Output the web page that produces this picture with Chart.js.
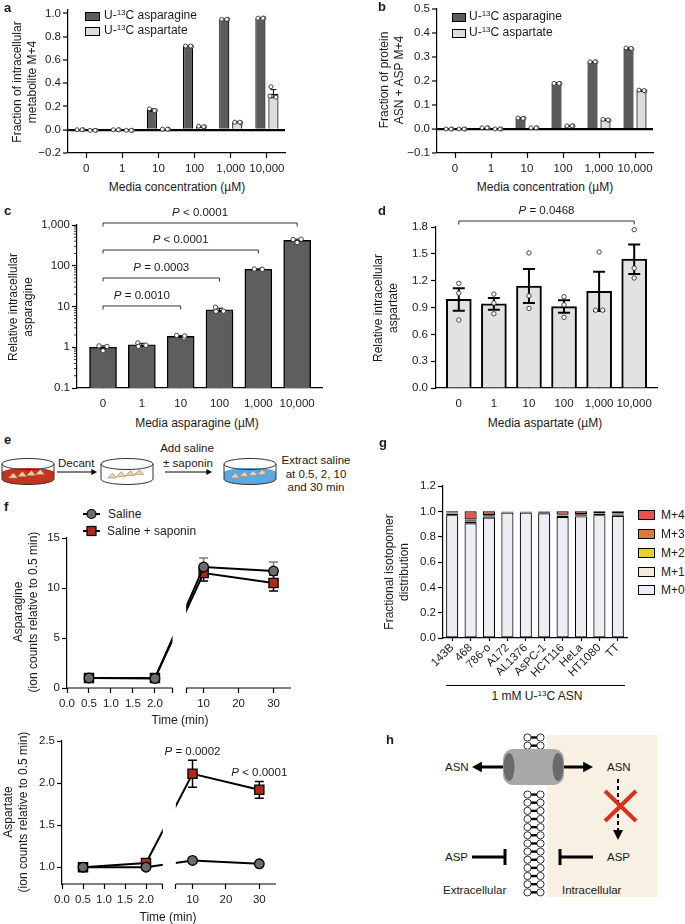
<!DOCTYPE html>
<html lang="en">
<head>
<meta charset="UTF-8">
<title>Asparagine and aspartate uptake</title>
<script src="https://cdn.jsdelivr.net/npm/chart.js@4.4.1/dist/chart.umd.min.js"></script>
<style>
  body { margin: 0; background: #fff; }
  #fig { position: relative; width: 685px; height: 924px; overflow: hidden;
         font-family: "Liberation Sans", Arial, sans-serif; color: #1a1a1a; }
  #fig canvas, #fig svg, .t, .sw, .rule { position: absolute; }
  .t { font-size: 12px; line-height: 14px; white-space: nowrap; }
  .lbl { font-size: 13px; font-weight: bold; }
  .c { transform: translate(-50%, -50%); text-align: center; }
  .r { transform: translate(-50%, -50%) rotate(-90deg); text-align: center; line-height: 15px; }
  .lg { font-size: 12px; transform: translateY(-50%); }
  .sup { font-size: 8px; position: relative; top: -4px; }
  .sw { border: 1.2px solid #000; box-sizing: border-box; }
  .rule { border-top: 1.3px solid #000; }
</style>
</head>
<body>
<div id="fig">
  <svg id="art" width="685" height="924" style="left:0;top:0"></svg>

  <canvas id="ca"></canvas>
  <canvas id="cb"></canvas>
  <canvas id="cc"></canvas>
  <canvas id="cd"></canvas>
  <canvas id="cf1"></canvas>
  <canvas id="cf2"></canvas>
  <canvas id="cg"></canvas>

  <!-- panel letters -->
  <div class="t lbl" style="left:4px;top:1px">a</div>
  <div class="t lbl" style="left:378px;top:0px">b</div>
  <div class="t lbl" style="left:4px;top:204px">c</div>
  <div class="t lbl" style="left:378px;top:204px">d</div>
  <div class="t lbl" style="left:4px;top:433px">e</div>
  <div class="t lbl" style="left:4px;top:500px">f</div>
  <div class="t lbl" style="left:379px;top:436px">g</div>
  <div class="t lbl" style="left:386px;top:733px">h</div>

  <!-- a -->
  <div class="t r" style="left:25px;top:82px">Fraction of intracellular<br>metabolite M+4</div>
  <div class="t c" style="left:177px;top:187px">Media concentration (µM)</div>
  <div class="sw" style="left:85px;top:12px;width:15px;height:9px;background:#5c5c5c"></div>
  <div class="sw" style="left:85px;top:27px;width:15px;height:9px;background:#dddddd"></div>
  <div class="t lg" style="left:104px;top:16px">U-<span class="sup">13</span>C asparagine</div>
  <div class="t lg" style="left:104px;top:31px">U-<span class="sup">13</span>C aspartate</div>

  <!-- b -->
  <div class="t r" style="left:392px;top:80px">Fraction of protein<br>ASN + ASP M+4</div>
  <div class="t c" style="left:545px;top:187px">Media concentration (µM)</div>
  <div class="sw" style="left:452px;top:13px;width:14px;height:9px;background:#5c5c5c"></div>
  <div class="sw" style="left:452px;top:29px;width:14px;height:9px;background:#dddddd"></div>
  <div class="t lg" style="left:469px;top:17px">U-<span class="sup">13</span>C asparagine</div>
  <div class="t lg" style="left:469px;top:33px">U-<span class="sup">13</span>C aspartate</div>

  <!-- c / d -->
  <div class="t r" style="left:21px;top:307px">Relative intracellular<br>asparagine</div>
  <div class="t c" style="left:197px;top:423px">Media asparagine (µM)</div>
  <div class="t r" style="left:386px;top:308px">Relative intracellular<br>aspartate</div>
  <div class="t c" style="left:545px;top:423px">Media aspartate (µM)</div>

  <!-- f -->
  <div class="t lg" style="left:108px;top:514px">Saline</div>
  <div class="t lg" style="left:107px;top:531px">Saline + saponin</div>
  <div class="t r" style="left:26px;top:612px">Asparagine<br>(ion counts relative to 0.5 min)</div>
  <div class="t c" style="left:180px;top:720px">Time (min)</div>
  <div class="t r" style="left:16px;top:812px">Aspartate<br>(ion counts relative to 0.5 min)</div>
  <div class="t c" style="left:168px;top:917px">Time (min)</div>

  <!-- g -->
  <div class="t r" style="left:397px;top:572px">Fractional isotopomer<br>distribution</div>
  <div class="sw" style="left:638px;top:510px;width:17px;height:10px;background:#e8524f"></div>
  <div class="sw" style="left:638px;top:529px;width:17px;height:10px;background:#d97b3b"></div>
  <div class="sw" style="left:638px;top:548px;width:17px;height:10px;background:#e6d42a"></div>
  <div class="sw" style="left:638px;top:567px;width:17px;height:10px;background:#f2ecda"></div>
  <div class="sw" style="left:638px;top:585px;width:17px;height:10px;background:#ededf3"></div>
  <div class="t lg" style="left:661px;top:515px">M+4</div>
  <div class="t lg" style="left:661px;top:534px">M+3</div>
  <div class="t lg" style="left:661px;top:553px">M+2</div>
  <div class="t lg" style="left:661px;top:572px">M+1</div>
  <div class="t lg" style="left:661px;top:590px">M+0</div>
  <div class="rule" style="left:446px;top:685px;width:179px"></div>
  <div class="t c" style="left:537px;top:697px">1 mM U-<span class="sup">13</span>C ASN</div>
</div>

<script>
// ---------- data ----------
const concLabels = ['0', '1', '10', '100', '1,000', '10,000'];

// a: intracellular M+4 fraction
const aAsn = [0.0, 0.0, 0.17, 0.72, 0.95, 0.96];
const aAsnErr = [0, 0, 0.01, 0.005, 0.003, 0.003];
const aAsnPts = [[0, 0, 0], [0, 0, 0], [0.18, 0.165, 0.165], [0.72, 0.715, 0.72], [0.95, 0.95, 0.95], [0.96, 0.96, 0.96]];
const aAsp = [-0.005, -0.005, 0.005, 0.025, 0.065, 0.31];
const aAspErr = [0, 0, 0, 0.005, 0.005, 0.035];
const aAspPts = [[-0.005, -0.005, -0.005], [-0.005, -0.005, -0.005], [0.005, 0.005, 0.005], [0.03, 0.025, 0.025], [0.065, 0.06, 0.065], [0.37, 0.29, 0.28]];
const aTicks = [-0.2, 0, 0.2, 0.4, 0.6, 0.8, 1.0];

// b: protein ASN + ASP M+4 fraction
const bAsn = [0.0, 0.005, 0.045, 0.19, 0.28, 0.335];
const bAsnErr = [0, 0, 0.002, 0.002, 0.002, 0.004];
const bAsnPts = [[0, 0, 0], [0.005, 0.005, 0.005], [0.046, 0.045, 0.044], [0.19, 0.19, 0.19], [0.28, 0.28, 0.28], [0.338, 0.333, 0.336]];
const bAsp = [0.0, 0.0, 0.005, 0.013, 0.038, 0.16];
const bAspErr = [0, 0, 0, 0.002, 0.003, 0.003];
const bAspPts = [[0, 0, 0], [0, 0, 0], [0.005, 0.005, 0.005], [0.013, 0.013, 0.013], [0.04, 0.036, 0.038], [0.162, 0.158, 0.16]];
const bTicks = [-0.1, 0, 0.1, 0.2, 0.3, 0.4, 0.5];

// c: relative intracellular asparagine (log)
const cVals = [1.0, 1.15, 1.85, 8.3, 82, 420];
const cErr = [0.08, 0.1, 0.08, 0.8, 2, 30];
const cPts = [[1.08, 0.82, 1.05], [1.28, 1.05, 1.12], [1.95, 1.7, 1.9], [9.6, 7.6, 7.7], [83, 81, 82], [440, 370, 450]];
const cTicks = [0.1, 1, 10, 100, 1000];
const cTickText = ['0.1', '1', '10', '100', '1,000'];
const cPTo = [5, 4, 3, 2];
const cP = [' < 0.0001', ' < 0.0001', ' = 0.0003', ' = 0.0010'];

// d: relative intracellular aspartate
const dVals = [0.99, 0.94, 1.14, 0.91, 1.08, 1.44];
const dErr = [0.125, 0.065, 0.19, 0.07, 0.22, 0.165];
const dPts = [[0.76, 1.06, 1.17], [0.83, 0.95, 1.05], [0.89, 1.03, 1.51], [0.79, 0.93, 1.02], [0.87, 0.87, 1.52], [1.23, 1.34, 1.77]];
const dTicks = [0, 0.3, 0.6, 0.9, 1.2, 1.5, 1.8];
const dP = ' = 0.0468';

// f: time course (min)
const fTimes = [0.5, 2, 10, 30];
const fAsnSaline = [1.0, 0.95, 12.1, 11.7];
const fAsnSalineErr = [0.05, 0.05, 0.9, 0.9];
const fAsnSaponin = [1.0, 1.0, 11.5, 10.5];
const fAsnSaponinErr = [0.05, 0.05, 0.8, 0.8];
const fAspSaline = [1.0, 1.0, 1.08, 1.04];
const fAspSalineErr = [0.01, 0.03, 0.01, 0.01];
const fAspSaponin = [1.0, 1.05, 2.11, 1.92];
const fAspSaponinErr = [0.01, 0.04, 0.16, 0.1];
const fAspP = [' = 0.0002', ' < 0.0001'];
const fAsnTicks = [0, 5, 10, 15];
const fAspTicks = [1.0, 1.5, 2.0, 2.5];
const fTimeTicks = [0, 0.5, 1, 1.5, 2, 2.4, 5, 10, 20, 30];
const fTimeText = ['0.0', '0.5', '1.0', '1.5', '2.0', '', '', '10', '20', '30'];

// g: isotopomer distribution
const gLines = ['143B', '468', '786-o', 'A172', 'AL1376', 'AsPC-1', 'HCT116', 'HeLa', 'HT1080', 'TT'];
const gM0 = [0.97, 0.905, 0.95, 0.99, 0.99, 0.985, 0.955, 0.96, 0.97, 0.965];
const gM1 = [0.01, 0.015, 0.01, 0.005, 0.005, 0.007, 0.01, 0.01, 0.008, 0.01];
const gM2 = [0.004, 0.005, 0.003, 0.002, 0.002, 0.002, 0.003, 0.003, 0.002, 0.003];
const gM3 = [0.006, 0.01, 0.007, 0.001, 0.001, 0.002, 0.005, 0.005, 0.004, 0.005];
const gM4 = [0.01, 0.065, 0.03, 0.002, 0.002, 0.004, 0.027, 0.022, 0.016, 0.017];
const gTicks = [0, 0.2, 0.4, 0.6, 0.8, 1.0, 1.2];

// ---------- shared setup ----------
const FONT = '"Liberation Sans", Arial, sans-serif';
Chart.defaults.font.family = FONT;
Chart.defaults.font.size = 11.5;
Chart.defaults.color = '#1a1a1a';
Chart.defaults.animation = false;
Chart.defaults.responsive = false;
Chart.defaults.events = [];
Chart.defaults.plugins.legend.display = false;
Chart.defaults.plugins.tooltip.enabled = false;

const AX = '#000';
const DARK = '#5c5c5c', LIGHT = '#dddddd';
const fmt1 = v => (v < 0 ? '−' : '') + Math.abs(v).toFixed(1);
const setTicks = list => s => { s.ticks = list.map(v => ({ value: v })); };

// position a canvas and pin its chart area to page pixels
function frame(id, L, T, W, H, x0, y0, x1, y1) {
  const c = document.getElementById(id);
  c.width = W; c.height = H;
  Object.assign(c.style, { left: L + 'px', top: T + 'px', width: W + 'px', height: H + 'px' });
  return {
    el: c,
    layout: { autoPadding: false, padding: { left: 0, top: y0 - T, right: L + W - x1, bottom: 0 } },
    fitX: s => { s.height = T + H - y1; s.paddingLeft = 0; s.paddingRight = 0; },
    fitY: s => { s.width = x0 - L; s.paddingTop = 0; s.paddingBottom = 0; }
  };
}

function tickGrid(len) {
  return { offset: false, drawOnChartArea: false, tickLength: len, tickColor: AX, tickWidth: 1.2 };
}

function pText(ctx, cx, cy, rest) {
  ctx.save();
  ctx.fillStyle = '#1a1a1a';
  ctx.textBaseline = 'middle';
  ctx.textAlign = 'left';
  ctx.font = 'italic 11.5px ' + FONT;
  const wP = ctx.measureText('P').width;
  ctx.font = '11.5px ' + FONT;
  const wR = ctx.measureText(rest).width;
  const x = cx - (wP + wR) / 2;
  ctx.font = 'italic 11.5px ' + FONT;
  ctx.fillText('P', x, cy);
  ctx.font = '11.5px ' + FONT;
  ctx.fillText(rest, x + wP, cy);
  ctx.restore();
}

// error bars + replicate dots on top of bars
function makeBarExtras(sets) {
  return {
    id: 'barExtras',
    afterDatasetsDraw(chart) {
      const ctx = chart.ctx, ys = chart.scales.y;
      sets.forEach(s => {
        chart.getDatasetMeta(s.ds).data.forEach((bar, i) => {
          const x = bar.x;
          ctx.save();
          ctx.strokeStyle = '#000';
          ctx.lineWidth = s.lw;
          if (s.err[i] > 0) {
            const yt = ys.getPixelForValue(s.mean[i] + s.err[i]);
            const yb = ys.getPixelForValue(s.mean[i] - s.err[i]);
            ctx.beginPath();
            ctx.moveTo(x, yt); ctx.lineTo(x, yb);
            ctx.moveTo(x - s.cap, yt); ctx.lineTo(x + s.cap, yt);
            ctx.moveTo(x - s.cap, yb); ctx.lineTo(x + s.cap, yb);
            ctx.stroke();
          }
          const py = s.pts[i].map(v => ys.getPixelForValue(v));
          ctx.fillStyle = '#fff';
          ctx.strokeStyle = '#333';
          ctx.lineWidth = 0.9;
          py.forEach((y, k) => {
            let dx = s.jit[k];
            if (dx === 0) {
              const near = py.map((o, j) => j).filter(j => j !== k && Math.abs(py[j] - y) < 3);
              if (near.length) dx = k < near[0] ? -3.5 : 3.5;
            }
            ctx.beginPath();
            ctx.arc(x + dx, y, s.r, 0, Math.PI * 2);
            ctx.fill(); ctx.stroke();
          });
          ctx.restore();
        });
      });
    }
  };
}

// significance brackets between bars
function makeBrackets(list) {
  return {
    id: 'brackets',
    afterDraw(chart) {
      const ctx = chart.ctx, xs = chart.scales.x, ys = chart.scales.y;
      list.forEach(b => {
        const xa = xs.getPixelForValue(b.from), xb = xs.getPixelForValue(b.to), y = ys.getPixelForValue(b.y);
        ctx.save();
        ctx.strokeStyle = '#333'; ctx.lineWidth = 1;
        ctx.beginPath();
        ctx.moveTo(xa, y + 3.5); ctx.lineTo(xa, y); ctx.lineTo(xb, y); ctx.lineTo(xb, y + 3.5);
        ctx.stroke();
        ctx.restore();
        pText(ctx, (xa + xb) / 2, y - 10, b.text);
      });
    }
  };
}

// short minor ticks on a log axis
const logMinor = {
  id: 'logMinor',
  afterDraw(chart) {
    const ctx = chart.ctx, ys = chart.scales.y, x0 = chart.chartArea.left;
    ctx.save();
    ctx.strokeStyle = AX; ctx.lineWidth = 0.8;
    ctx.beginPath();
    [0.1, 1, 10, 100].forEach(d => {
      for (let m = 2; m <= 9; m++) {
        const y = ys.getPixelForValue(d * m);
        ctx.moveTo(x0 - 3, y); ctx.lineTo(x0, y);
      }
    });
    ctx.stroke();
    ctx.restore();
  }
};

// broken time axis: 0-2.4 min then 5-35 min
const BREAK_LO = 2.4, BREAK_HI = 2.71, RIGHT_K = 0.0795;
const tPos = t => (t <= BREAK_LO ? t : BREAK_HI + (t - 5) * RIGHT_K);

const axisBreak = {
  id: 'axisBreak',
  afterDatasetsDraw(chart) {
    const ctx = chart.ctx, xs = chart.scales.x, a = chart.chartArea;
    const xa = xs.getPixelForValue(BREAK_LO), xb = xs.getPixelForValue(BREAK_HI);
    ctx.save();
    ctx.fillStyle = '#fff';
    ctx.fillRect(xa, a.top - 2, xb - xa, a.bottom - a.top + 1);
    ctx.strokeStyle = AX; ctx.lineWidth = 1.2;
    ctx.beginPath();
    ctx.moveTo(a.left, a.bottom); ctx.lineTo(xa, a.bottom);
    ctx.moveTo(xb, a.bottom); ctx.lineTo(a.right, a.bottom);
    ctx.stroke();
    ctx.restore();
  }
};

function makeLineErr(sets) {
  return {
    id: 'lineErr',
    beforeDatasetsDraw(chart) {
      const ctx = chart.ctx, ys = chart.scales.y;
      sets.forEach(s => {
        chart.getDatasetMeta(s.ds).data.forEach((pt, i) => {
          const yt = ys.getPixelForValue(s.mean[i] + s.err[i]);
          const yb = ys.getPixelForValue(s.mean[i] - s.err[i]);
          ctx.save();
          ctx.strokeStyle = s.color; ctx.lineWidth = 1.5;
          ctx.beginPath();
          ctx.moveTo(pt.x, yt); ctx.lineTo(pt.x, yb);
          ctx.moveTo(pt.x - 4.5, yt); ctx.lineTo(pt.x + 4.5, yt);
          ctx.moveTo(pt.x - 4.5, yb); ctx.lineTo(pt.x + 4.5, yb);
          ctx.stroke();
          ctx.restore();
        });
      });
    }
  };
}

function makePLabels(list) {
  return {
    id: 'pLabels',
    afterDatasetsDraw(chart) {
      const ys = chart.scales.y;
      list.forEach(p => {
        const pt = chart.getDatasetMeta(p.ds).data[p.i];
        pText(chart.ctx, pt.x, ys.getPixelForValue(p.v + p.e) - 9, p.text);
      });
    }
  };
}

// ---------- a & b: grouped bars ----------
function groupedChart(f, asn, asnErr, asnPts, asp, aspErr, aspPts, min, max, ticks) {
  const barStyle = { borderColor: '#000', borderWidth: 1.2, categoryPercentage: 0.72, barPercentage: 0.78 };
  new Chart(f.el, {
    type: 'bar',
    data: {
      labels: concLabels,
      datasets: [
        Object.assign({ data: asn, backgroundColor: DARK }, barStyle),
        Object.assign({ data: asp, backgroundColor: LIGHT }, barStyle)
      ]
    },
    options: {
      layout: f.layout,
      scales: {
        x: {
          afterFit: f.fitX,
          border: { color: AX, width: 1.2 },
          grid: tickGrid(5),
          ticks: { padding: 4, maxRotation: 0, minRotation: 0, autoSkip: false }
        },
        y: {
          afterFit: f.fitY, min: min, max: max, afterBuildTicks: setTicks(ticks),
          border: { color: AX, width: 1.2 },
          grid: {
            drawOnChartArea: true, tickLength: 5, tickColor: AX, tickWidth: 1.2,
            color: c => (c.tick && c.tick.value === 0 ? '#000' : 'rgba(0,0,0,0)'),
            lineWidth: c => (c.tick && c.tick.value === 0 ? 2.2 : 0)
          },
          ticks: { padding: 2, callback: fmt1 }
        }
      }
    },
    plugins: [makeBarExtras([
      { ds: 0, mean: asn, err: asnErr, pts: asnPts, jit: [-2.5, 0, 2.5], r: 2, cap: 3, lw: 1 },
      { ds: 1, mean: asp, err: aspErr, pts: aspPts, jit: [-2.5, 0, 2.5], r: 2, cap: 3, lw: 1 }
    ])]
  });
}

groupedChart(frame('ca', 0, 0, 300, 180, 68, 10, 285, 153),
  aAsn, aAsnErr, aAsnPts, aAsp, aAspErr, aAspPts, -0.2, 1.03, aTicks);
groupedChart(frame('cb', 395, 0, 290, 180, 437, 9, 653, 153),
  bAsn, bAsnErr, bAsnPts, bAsp, bAspErr, bAspPts, -0.1, 0.5, bTicks);

// ---------- c: log bars ----------
const fc = frame('cc', 20, 200, 310, 215, 77, 225, 322, 388);
new Chart(fc.el, {
  type: 'bar',
  data: {
    datasets: [{
      data: cVals.map((v, i) => ({ x: i, y: v })),
      backgroundColor: '#5e5e5e', borderColor: '#000', borderWidth: 1.4, barThickness: 27
    }]
  },
  options: {
    layout: fc.layout,
    scales: {
      x: {
        type: 'linear', offset: false, min: -0.67, max: 5.64, afterFit: fc.fitX,
        afterBuildTicks: setTicks([0, 1, 2, 3, 4, 5]),
        border: { color: AX, width: 1.2 },
        grid: tickGrid(0),
        ticks: { padding: 9, maxRotation: 0, autoSkip: false, callback: v => concLabels[v] }
      },
      y: {
        type: 'logarithmic', min: 0.1, max: 1000, afterFit: fc.fitY,
        afterBuildTicks: setTicks(cTicks),
        border: { color: AX, width: 1.2 },
        grid: tickGrid(5),
        ticks: { padding: 2, callback: (v, i) => cTickText[i] }
      }
    }
  },
  plugins: [
    logMinor,
    makeBarExtras([{ ds: 0, mean: cVals, err: cErr, pts: cPts, jit: [-4, 0, 4], r: 2.2, cap: 3.5, lw: 1 }]),
    makeBrackets([
      { from: 0, to: cPTo[0], y: 1120, text: cP[0] },
      { from: 0, to: cPTo[1], y: 243, text: cP[1] },
      { from: 0, to: cPTo[2], y: 50, text: cP[2] },
      { from: 0, to: cPTo[3], y: 10.3, text: cP[3] }
    ])
  ]
});

// ---------- d: aspartate bars ----------
const fd = frame('cd', 375, 200, 305, 215, 436, 227, 657, 388);
new Chart(fd.el, {
  type: 'bar',
  data: {
    datasets: [{
      data: dVals.map((v, i) => ({ x: i, y: v })),
      backgroundColor: '#e2e2e2', borderColor: '#000', borderWidth: 2, barThickness: 25
    }]
  },
  options: {
    layout: fd.layout,
    scales: {
      x: {
        type: 'linear', offset: false, min: -0.65, max: 5.65, afterFit: fd.fitX,
        afterBuildTicks: setTicks([0, 1, 2, 3, 4, 5]),
        border: { color: AX, width: 1.2 },
        grid: tickGrid(0),
        ticks: { padding: 9, maxRotation: 0, autoSkip: false, callback: v => concLabels[v] }
      },
      y: {
        min: 0, max: 1.8, afterFit: fd.fitY, afterBuildTicks: setTicks(dTicks),
        border: { color: AX, width: 1.2 },
        grid: tickGrid(5),
        ticks: { padding: 3, callback: fmt1 }
      }
    }
  },
  plugins: [
    makeBarExtras([{ ds: 0, mean: dVals, err: dErr, pts: dPts, jit: [0, 0, 0], r: 2.2, cap: 6, lw: 2 }]),
    makeBrackets([{ from: 0, to: 5, y: 1.867, text: dP }])
  ]
});

// ---------- f: time courses ----------
function timeChart(f, saline, salineErr, saponin, saponinErr, min, max, ticks, extra) {
  const line = { borderColor: '#000', borderWidth: 2, tension: 0, pointBorderColor: '#000', pointBorderWidth: 1.3 };
  new Chart(f.el, {
    type: 'line',
    data: {
      datasets: [
        Object.assign({
          data: fTimes.map((t, i) => ({ x: tPos(t), y: saline[i] })),
          pointStyle: 'circle', pointRadius: 4.8, pointBackgroundColor: '#6b6b6b'
        }, line),
        Object.assign({
          data: fTimes.map((t, i) => ({ x: tPos(t), y: saponin[i] })),
          pointStyle: 'rect', pointRadius: 6.5, pointBackgroundColor: '#b2271b'
        }, line)
      ]
    },
    options: {
      layout: f.layout,
      scales: {
        x: {
          type: 'linear', min: 0, max: tPos(35), afterFit: f.fitX,
          afterBuildTicks: setTicks(fTimeTicks.map(tPos)),
          border: { display: false },
          grid: tickGrid(5),
          ticks: { padding: 4, maxRotation: 0, autoSkip: false, callback: (v, i) => fTimeText[i] }
        },
        y: {
          min: min, max: max, afterFit: f.fitY, afterBuildTicks: setTicks(ticks),
          border: { color: AX, width: 1.2 },
          grid: tickGrid(5),
          ticks: { padding: 2, callback: v => (max > 5 ? String(v) : v.toFixed(1)) }
        }
      }
    },
    plugins: [
      makeLineErr([
        { ds: 0, mean: saline, err: salineErr, color: '#7a7a7a' },
        { ds: 1, mean: saponin, err: saponinErr, color: '#000' }
      ]),
      axisBreak
    ].concat(extra)
  });
}

timeChart(frame('cf1', 20, 530, 290, 185, 67, 538, 291, 688),
  fAsnSaline, fAsnSalineErr, fAsnSaponin, fAsnSaponinErr, 0, 15, fAsnTicks, []);
timeChart(frame('cf2', 15, 725, 290, 190, 62, 741, 276, 884),
  fAspSaline, fAspSalineErr, fAspSaponin, fAspSaponinErr, 0.8, 2.5, fAspTicks,
  [makePLabels([
    { ds: 1, i: 2, v: fAspSaponin[2], e: fAspSaponinErr[2], text: fAspP[0] },
    { ds: 1, i: 3, v: fAspSaponin[3], e: fAspSaponinErr[3], text: fAspP[1] }
  ])]);

// ---------- g: stacked isotopomers ----------
const fg = frame('cg', 395, 470, 240, 215, 443, 486, 627, 638);
const gStyle = { borderColor: '#000', borderWidth: 1.2, barPercentage: 0.66, categoryPercentage: 1, borderSkipped: false };
new Chart(fg.el, {
  type: 'bar',
  data: {
    labels: gLines,
    datasets: [
      Object.assign({ label: 'M+0', data: gM0, backgroundColor: '#ededf3' }, gStyle),
      Object.assign({ label: 'M+1', data: gM1, backgroundColor: '#f2ecda' }, gStyle),
      Object.assign({ label: 'M+2', data: gM2, backgroundColor: '#e6d42a' }, gStyle),
      Object.assign({ label: 'M+3', data: gM3, backgroundColor: '#d97b3b' }, gStyle),
      Object.assign({ label: 'M+4', data: gM4, backgroundColor: '#e8524f' }, gStyle)
    ]
  },
  options: {
    layout: fg.layout,
    scales: {
      x: {
        stacked: true, afterFit: fg.fitX,
        border: { color: AX, width: 1.2 },
        grid: tickGrid(3),
        ticks: { padding: 0, minRotation: 45, maxRotation: 45, autoSkip: false, font: { size: 11.5 } }
      },
      y: {
        stacked: true, min: 0, max: 1.2, afterFit: fg.fitY, afterBuildTicks: setTicks(gTicks),
        border: { color: AX, width: 1.2 },
        grid: tickGrid(5),
        ticks: { padding: 2, callback: fmt1 }
      }
    }
  }
});

// ---------- e & h: schematics ----------
function dish(cx, liquid) {
  const rx = 26, top = 464, bot = 479, lq = 472.5;
  let s = '';
  if (liquid) {
    s += `<path d="M${cx - rx},${lq} A${rx},4.5 0 0 1 ${cx + rx},${lq} L${cx + rx},${bot} A${rx},5.5 0 0 1 ${cx - rx},${bot} Z" fill="${liquid}"/>`;
  }
  [[-15, 478], [-6, 476.5], [3, 475.5], [12, 474.5]].forEach(([dx, by]) => {
    s += `<path d="M${cx + dx - 4.5},${by} L${cx + dx + 0.5},${by - 5} L${cx + dx + 4.5},${by} Z" fill="#ecd0ad" stroke="#a88358" stroke-width="0.6"/>`;
  });
  s += `<ellipse cx="${cx}" cy="${top}" rx="${rx}" ry="5.5" fill="none" stroke="#333" stroke-width="1"/>`;
  s += `<path d="M${cx - rx},${top} L${cx - rx},${bot} A${rx},5.5 0 0 0 ${cx + rx},${bot} L${cx + rx},${top}" fill="none" stroke="#333" stroke-width="1"/>`;
  return s;
}

function arrow(x1, x2, y, w, head) {
  const d = x2 > x1 ? 1 : -1;
  return `<line x1="${x1}" y1="${y}" x2="${x2 - d * head}" y2="${y}" stroke="#000" stroke-width="${w}"/>` +
    `<path d="M${x2},${y} L${x2 - d * head * 1.4},${y - head * 0.75} L${x2 - d * head * 1.4},${y + head * 0.75} Z" fill="#000"/>`;
}

let art = '';
// e
art += dish(28, '#c3331e') + dish(127, null) + dish(250, '#59a9e5');
art += arrow(57, 97, 472, 1, 4);
art += arrow(165, 212, 472, 1, 4);
art += `<g font-family='${FONT}' font-size="11.5" fill="#1a1a1a">`;
art += `<text x="58" y="467">Decant</text>`;
art += `<text x="187" y="452" text-anchor="middle">Add saline</text>`;
art += `<text x="188" y="467" text-anchor="middle">± saponin</text>`;
art += `<text x="316" y="464" text-anchor="middle">Extract saline</text>`;
art += `<text x="316" y="478" text-anchor="middle">at 0.5, 2, 10</text>`;
art += `<text x="316" y="491" text-anchor="middle">and 30 min</text>`;
art += `</g>`;

// f legend markers
art += `<line x1="83" y1="514" x2="100" y2="514" stroke="#000" stroke-width="2"/>`;
art += `<circle cx="91.5" cy="514" r="4.5" fill="#6b6b6b" stroke="#000" stroke-width="1.2"/>`;
art += `<line x1="83" y1="531" x2="100" y2="531" stroke="#000" stroke-width="2"/>`;
art += `<rect x="87" y="526.5" width="9" height="9" fill="#b2271b" stroke="#000" stroke-width="1.2"/>`;

// h
art += `<rect x="547" y="735" width="111" height="162" fill="#f8f0e3"/>`;
for (let y = 737.5; y <= 897; y += 8.15) {
  if (y > 749 && y < 787) continue;
  art += `<line x1="531" y1="${y}" x2="537" y2="${y}" stroke="#000" stroke-width="2.4"/>`;
  art += `<circle cx="527.5" cy="${y}" r="3.6" fill="#fff" stroke="#000" stroke-width="0.8"/>`;
  art += `<circle cx="540.5" cy="${y}" r="3.6" fill="#fff" stroke="#000" stroke-width="0.8"/>`;
}
art += `<rect x="503" y="749" width="61" height="36" rx="10" fill="#a8a8a8"/>`;
art += `<ellipse cx="509" cy="767" rx="5.5" ry="14" fill="#6a6a6a"/>`;
art += `<ellipse cx="558" cy="767" rx="5.5" ry="14" fill="#6a6a6a"/>`;
art += arrow(503, 472, 767, 3, 7);
art += arrow(564, 593, 767, 3, 7);
art += `<line x1="618" y1="779" x2="618" y2="831" stroke="#000" stroke-width="2" stroke-dasharray="4 3"/>`;
art += `<path d="M618,840 L613,830 L623,830 Z" fill="#000"/>`;
art += `<line x1="605" y1="791" x2="636" y2="821" stroke="#d9311c" stroke-width="4"/>`;
art += `<line x1="636" y1="791" x2="605" y2="821" stroke="#d9311c" stroke-width="4"/>`;
art += `<line x1="472" y1="857" x2="505" y2="857" stroke="#000" stroke-width="3"/>`;
art += `<line x1="505" y1="849" x2="505" y2="865" stroke="#000" stroke-width="3"/>`;
art += `<line x1="593" y1="857" x2="560" y2="857" stroke="#000" stroke-width="3"/>`;
art += `<line x1="560" y1="849" x2="560" y2="865" stroke="#000" stroke-width="3"/>`;
art += `<g font-family='${FONT}' font-size="11.5" fill="#1a1a1a">`;
art += `<text x="445" y="771">ASN</text><text x="607" y="771">ASN</text>`;
art += `<text x="445" y="861">ASP</text><text x="607" y="861">ASP</text>`;
art += `<text x="443" y="894">Extracellular</text><text x="562" y="894">Intracellular</text>`;
art += `</g>`;
document.getElementById('art').innerHTML = art;
</script>
</body>
</html>
